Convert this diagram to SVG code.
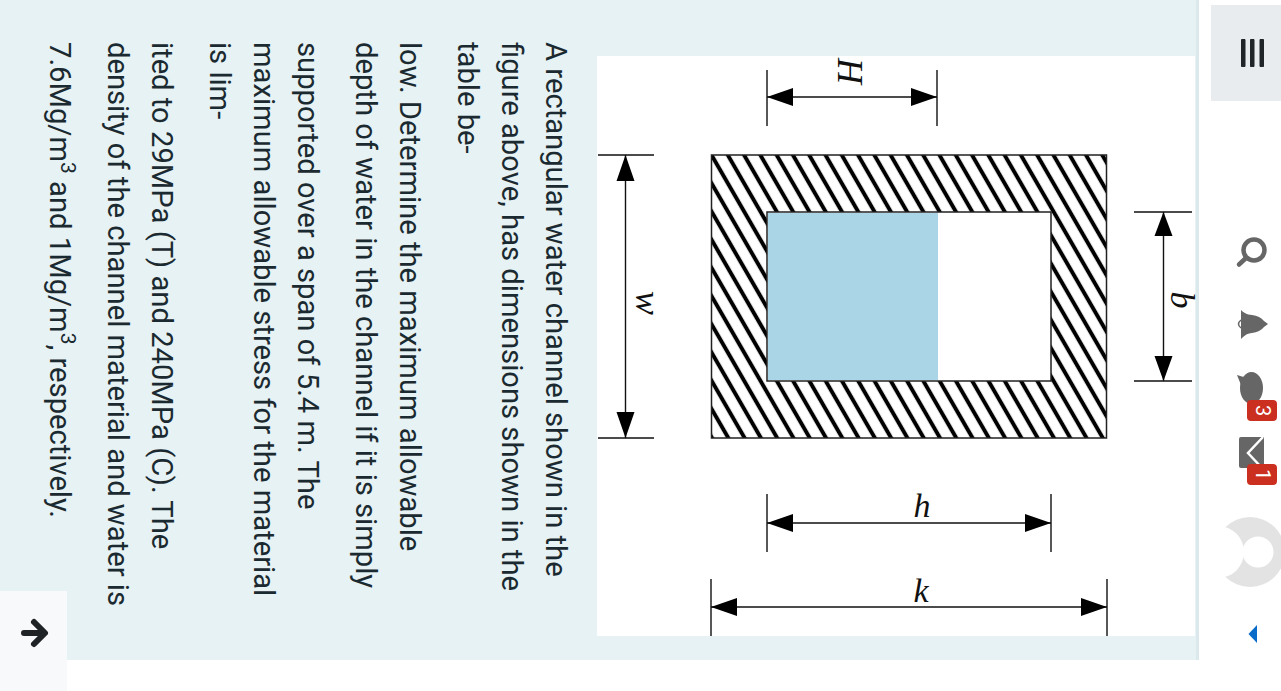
<svg xmlns="http://www.w3.org/2000/svg" width="1281" height="691" viewBox="0 0 1281 691">
<style>
.t{font-family:Roboto,"Liberation Sans",sans-serif;font-size:29.2px;fill:#1b2a30}
.m{font-family:"Liberation Serif",serif;font-style:italic;font-size:34px;fill:#111;text-anchor:middle}
.d{stroke:#111;stroke-width:1.4;fill:none}
.a{fill:#000}
.ic{fill:#666}
.bd{fill:#cb2f1f}
.bt{font-family:Roboto,"Liberation Sans",sans-serif;font-size:20px;fill:#fff;text-anchor:middle}
</style>
<defs>
<pattern id="hatch" width="14.1" height="14.1" patternUnits="userSpaceOnUse" patternTransform="translate(711.5 155) rotate(-30)">
<rect x="0" y="0" width="14.1" height="14.1" fill="#fff"/>
<rect x="0" y="0" width="2" height="14.1" fill="#000"/>
<rect x="12.1" y="0" width="2" height="14.1" fill="#000"/>
</pattern>
<clipPath id="side"><rect x="1199" y="500" width="82" height="120"/></clipPath>
</defs>
<rect width="1281" height="691" fill="#fff"/>
<rect id="panel" x="0" y="0" width="1197" height="660" fill="#e6f2f4"/>
<rect id="figure-bg" x="597" y="56" width="598" height="580" fill="#fff"/>
<g id="channel">
<rect x="711.500" y="155" width="395" height="283" fill="url(#hatch)" stroke="#222" stroke-width="1.500"/>
<rect x="767" y="212" width="284" height="169" fill="#fff" stroke="#222" stroke-width="1.500"/>
<rect x="768" y="213" width="170" height="167" fill="#aad5e6"/>
</g>
<g id="connectors">
<path class="d" d="M767 70V126M937 70V126M767 97H937"/>
<path class="a" d="M767 97L793 88V106ZM937 97L911 88V106Z"/>
<path class="d" d="M598 155H654M598 438H654M625.500 155V438"/>
<path class="a" d="M625.500 155L616.500 181H634.500ZM625.500 438L616.500 412H634.500Z"/>
<path class="d" d="M1134 212H1192M1134 381H1192M1163.500 212V381"/>
<path class="a" d="M1163.500 212L1154.500 236H1172.500ZM1163.500 381L1154.500 356H1172.500Z"/>
<path class="d" d="M767 494V552M1051 494V552M767 523H1051"/>
<path class="a" d="M767 523L793 514V532ZM1051 523L1025 514V532Z"/>
<path class="d" d="M711 579V636M1107 579V636M711 607H1107"/>
<path class="a" d="M711 607L737 598V616ZM1107 607L1081 598V616Z"/>
</g>
<g id="labels">
<text class="m" transform="translate(838 71) rotate(90)" style="font-size:36px">H</text>
<text class="m" transform="translate(636 303) rotate(90)" style="font-size:36px">w</text>
<text class="m" transform="translate(1171 300) rotate(90)">b</text>
<text class="m" transform="translate(922 517)">h</text>
<text class="m" transform="translate(921 602)">k</text>
</g>
<g id="text">
<text class="t" transform="translate(545.500 42) rotate(90)">A rectangular water channel shown in the</text>
<text class="t" transform="translate(501.500 42) rotate(90)">figure above, has dimensions shown in the</text>
<text class="t" transform="translate(457.500 42) rotate(90)">table be-</text>
<text class="t" transform="translate(399.500 42) rotate(90)">low. Determine the maximum allowable</text>
<text class="t" transform="translate(355.500 42) rotate(90)">depth of water in the channel if it is simply</text>
<text class="t" transform="translate(297.500 42) rotate(90)">supported over a span of 5.4 m. The</text>
<text class="t" transform="translate(253.500 42) rotate(90)">maximum allowable stress for the material</text>
<text class="t" transform="translate(209.500 42) rotate(90)">is lim-</text>
<text class="t" transform="translate(151.500 42) rotate(90)">ited to 29MPa (T) and 240MPa (C). The</text>
<text class="t" transform="translate(107.500 42) rotate(90)">density of the channel material and water is</text>
<text class="t" transform="translate(49.500 42) rotate(90)">7.6Mg/m<tspan dy="-11" font-size="21">3</tspan><tspan dy="11"> and 1Mg/m</tspan><tspan dy="-11" font-size="21">3</tspan><tspan dy="11">, respectively.</tspan></text>
</g>
<g id="next-tile">
<rect x="0" y="591" width="67" height="100" fill="#f8f9fb"/>
<path d="M24 633H44M34 622L45 633L34 644" fill="none" stroke="#1f2326" stroke-width="6" stroke-linecap="round" stroke-linejoin="round"/>
</g>
<g id="sidebar">
<rect x="1197" y="0" width="84" height="691" fill="#fff"/>
<rect x="1196" y="0" width="3" height="660" fill="#dbe8ec"/>
<rect x="1211" y="5" width="70" height="96" fill="#e8ecee"/>
<path d="M1241.500 39.500h3.500v27h-3.500zM1250.500 39.500h3.500v27h-3.500zM1260 39.500h3.500v27h-3.500z" fill="#1f2529" stroke="#1f2529" stroke-width="1" stroke-linejoin="round"/>
<g id="search"><circle cx="1254" cy="250" r="10.500" fill="none" stroke="#666" stroke-width="4.500"/><path d="M1246 258L1239 264.500" stroke="#666" stroke-width="4.500" stroke-linecap="round"/></g>
<g id="bell"><path class="ic" d="M1241 310C1243 312 1247 315 1252 315Q1260 316 1264 321L1268 324L1264 327Q1260 332 1252 333C1247 333 1243 337 1241 339Z"/><path d="M1241 320Q1236 324 1241 328" fill="none" stroke="#666" stroke-width="1.500"/></g>
<g id="comment"><ellipse class="ic" cx="1251.500" cy="388" rx="11.500" ry="16"/><path class="ic" d="M1237 375L1247 378L1243 390Z"/><rect class="bd" x="1247" y="400" width="30" height="21" rx="4"/><text class="bt" transform="translate(1255.500 410.500) rotate(90)">3</text></g>
<g id="mail"><path class="ic" d="M1239 439Q1239 437 1241 437H1264V468H1241Q1239 468 1239 466Z"/><path d="M1263 437L1248 453L1262 468" fill="none" stroke="#fff" stroke-width="2.500"/><rect class="bd" x="1247" y="464" width="30" height="21" rx="4"/><text class="bt" transform="translate(1255.500 474.500) rotate(90)">1</text></g>
<g id="spinner" clip-path="url(#side)"><circle cx="1250" cy="552" r="35" fill="#e3e3e3"/><circle cx="1218" cy="552" r="26" fill="#fff"/><circle cx="1258" cy="552" r="15.500" fill="#fff"/></g>
<path id="caret" d="M1248.500 634L1257 625V643Z" fill="#0b6bc9"/>
</g>
</svg>
